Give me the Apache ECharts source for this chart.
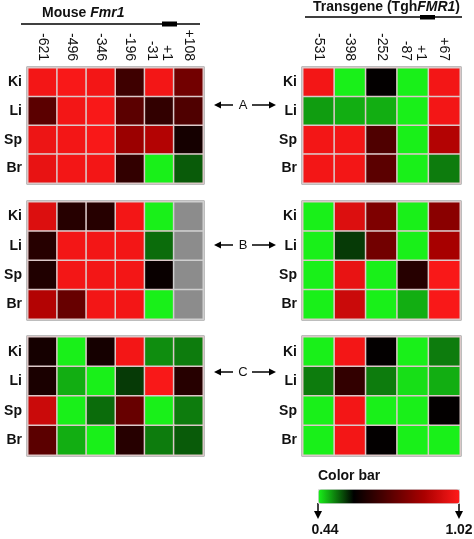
<!DOCTYPE html>
<html><head><meta charset="utf-8">
<script src="https://cdn.jsdelivr.net/npm/echarts@6/dist/echarts.min.js"></script>
<style>html,body{margin:0;padding:0;background:#fff}#c{width:474px;height:539px}</style>
</head><body><div id="c"></div>
<script>
var tissues = ['Ki', 'Li', 'Sp', 'Br'];
// two-line labels: with 90° rotation the last line is drawn on the left
var mouseSites = ['-621', '-496', '-346', '-196', '+1\n-31', '+108'];
var tgSites = ['-531', '-398', '-252', '+1\n-87', '+67'];
var colorMin = 0.44, colorMax = 1.02;

// rows: Ki, Li, Sp, Br
var mouseA = [
  [1.00, 1.01, 1.00, 0.69, 1.00, 0.78],
  [0.74, 1.00, 1.01, 0.74, 0.67, 0.72],
  [0.99, 1.00, 1.01, 0.85, 0.89, 0.62],
  [0.98, 1.00, 1.00, 0.67, 0.44, 0.53]
];
var tgA = [
  [1.00, 0.44, 0.59, 0.44, 1.00],
  [0.49, 0.48, 0.48, 0.44, 1.00],
  [1.00, 1.00, 0.72, 0.44, 0.89],
  [1.00, 1.00, 0.74, 0.44, 0.51]
];
var mouseB = [
  [0.96, 0.65, 0.65, 1.00, 0.44, null],
  [0.65, 1.00, 1.00, 1.00, 0.52, null],
  [0.64, 1.00, 1.00, 1.00, 0.60, null],
  [0.89, 0.76, 1.00, 1.00, 0.44, null]
];
var tgB = [
  [0.44, 0.96, 0.80, 0.44, 0.82],
  [0.44, 0.55, 0.78, 0.44, 0.87],
  [0.44, 0.98, 0.44, 0.65, 1.01],
  [0.44, 0.93, 0.44, 0.48, 1.01]
];
var mouseC = [
  [0.62, 0.44, 0.62, 1.00, 0.50, 0.51],
  [0.63, 0.48, 0.44, 0.55, 1.01, 0.65],
  [0.93, 0.44, 0.52, 0.76, 0.44, 0.51],
  [0.74, 0.48, 0.44, 0.65, 0.51, 0.53]
];
var tgC = [
  [0.44, 1.00, 0.59, 0.44, 0.51],
  [0.51, 0.67, 0.51, 0.45, 0.48],
  [0.44, 1.00, 0.44, 0.44, 0.59],
  [0.44, 1.00, 0.59, 0.44, 0.44]
];

var FONT = '"Liberation Sans", Arial, sans-serif';
function toData(m) {
  var out = [];
  m.forEach(function (row, y) { row.forEach(function (v, x) { if (v !== null) out.push([x, y, v]); }); });
  return out;
}
function naData(m) {
  var out = [];
  m.forEach(function (row, y) { row.forEach(function (v, x) { if (v === null) out.push([x, y, 0]); }); });
  return out;
}

var panels = [
  { m: mouseA, sites: mouseSites, left: 28, top: 68, w: 175, h: 115, labels: true },
  { m: tgA, sites: tgSites, left: 303, top: 68, w: 157, h: 115, labels: true },
  { m: mouseB, sites: mouseSites, left: 28, top: 202, w: 175, h: 117, labels: false },
  { m: tgB, sites: tgSites, left: 303, top: 202, w: 157, h: 117, labels: false },
  { m: mouseC, sites: mouseSites, left: 28, top: 337, w: 175, h: 118, labels: false },
  { m: tgC, sites: tgSites, left: 303, top: 337, w: 157, h: 118, labels: false }
];

var grids = [], xAxes = [], yAxes = [], series = [];
panels.forEach(function (p, i) {
  grids.push({ left: p.left, top: p.top, width: p.w, height: p.h, show: true,
    borderColor: '#7d7d7d', borderWidth: 3, backgroundColor: 'transparent' });
  xAxes.push({ type: 'category', gridIndex: i, data: p.sites, position: 'top',
    axisLine: { show: false }, axisTick: { show: false }, splitLine: { show: false },
    axisLabel: { show: p.labels, rotate: 90, margin: 7, color: '#111', fontSize: 14,
      fontFamily: FONT, lineHeight: 15 } });
  yAxes.push({ type: 'category', gridIndex: i, data: tissues, inverse: true,
    axisLine: { show: false }, axisTick: { show: false }, splitLine: { show: false },
    axisLabel: { margin: 6, color: '#111', fontSize: 14, fontWeight: 'bold', fontFamily: FONT } });
  series.push({ type: 'heatmap', xAxisIndex: i, yAxisIndex: i, data: toData(p.m),
    itemStyle: { borderColor: '#dcc8c8', borderWidth: 1.5 }, emphasis: { disabled: true } });
});
// missing-data cells (grey)
panels.forEach(function (p, i) {
  var d = naData(p.m);
  if (d.length) series.push({ type: 'heatmap', xAxisIndex: i, yAxisIndex: i, data: d,
    itemStyle: { color: '#8c8c8c', borderColor: '#cfcfcf', borderWidth: 1.5 }, emphasis: { disabled: true } });
});

function arrowH(x1, x2, y) {
  var dir = x2 > x1 ? 1 : -1;
  return [
    { type: 'line', shape: { x1: x1, y1: y, x2: x2 - dir * 5, y2: y }, style: { stroke: '#000', lineWidth: 1.5 } },
    { type: 'polygon', shape: { points: [[x2, y], [x2 - dir * 7, y - 3.5], [x2 - dir * 7, y + 3.5]] }, style: { fill: '#000' } }
  ];
}
function arrowV(x, y1, y2) {
  return [
    { type: 'line', shape: { x1: x, y1: y1, x2: x, y2: y2 - 5 }, style: { stroke: '#000', lineWidth: 1.5 } },
    { type: 'polygon', shape: { points: [[x, y2], [x - 4, y2 - 8], [x + 4, y2 - 8]] }, style: { fill: '#000' } }
  ];
}
var graphics = [];
// titles
graphics.push({ type: 'text', left: 42, top: 6, style: { text: '{n|Mouse }{i|Fmr1}', rich: {
  n: { fontSize: 14, fontWeight: 'bold', fontFamily: FONT, fill: '#111' },
  i: { fontSize: 14, fontWeight: 'bold', fontStyle: 'italic', fontFamily: FONT, fill: '#111' } } } });
graphics.push({ type: 'line', shape: { x1: 21, y1: 24, x2: 200, y2: 24 }, style: { stroke: '#000', lineWidth: 1.5 } });
graphics.push({ type: 'rect', shape: { x: 162, y: 21.5, width: 15, height: 5 }, style: { fill: '#000' } });
graphics.push({ type: 'text', left: 313, top: 0, style: { text: '{n|Transgene (Tgh}{i|FMR1}{n|)}', rich: {
  n: { fontSize: 14, fontWeight: 'bold', fontFamily: FONT, fill: '#111' },
  i: { fontSize: 14, fontWeight: 'bold', fontStyle: 'italic', fontFamily: FONT, fill: '#111' } } } });
graphics.push({ type: 'line', shape: { x1: 305, y1: 17, x2: 462, y2: 17 }, style: { stroke: '#000', lineWidth: 1.5 } });
graphics.push({ type: 'rect', shape: { x: 420, y: 15, width: 15, height: 4.5 }, style: { fill: '#000' } });
// A / B / C arrows
[['A', 105], ['B', 245], ['C', 372]].forEach(function (a) {
  graphics = graphics.concat(arrowH(233, 214, a[1]));
  graphics.push({ type: 'text', x: 243, y: a[1], style: { text: a[0], fontSize: 13, fontFamily: FONT,
    fill: '#111', align: 'center', verticalAlign: 'middle' } });
  graphics = graphics.concat(arrowH(252, 276, a[1]));
});
// colour bar annotations
graphics.push({ type: 'text', left: 318, top: 469, style: { text: 'Color bar', fontSize: 14, fontWeight: 'bold', fontFamily: FONT, fill: '#111' } });
graphics = graphics.concat(arrowV(318, 503, 519), arrowV(459, 503, 519));
graphics.push({ type: 'text', x: 325, y: 530, style: { text: String(colorMin), fontSize: 14, fontWeight: 'bold', fontFamily: FONT, fill: '#111', align: 'center', verticalAlign: 'middle' } });
graphics.push({ type: 'text', x: 459, y: 530, style: { text: String(colorMax), fontSize: 14, fontWeight: 'bold', fontFamily: FONT, fill: '#111', align: 'center', verticalAlign: 'middle' } });

var chart = echarts.init(document.getElementById('c'), null, { renderer: 'canvas' });
chart.setOption({
  animation: false,
  backgroundColor: '#fff',
  grid: grids, xAxis: xAxes, yAxis: yAxes, series: series,
  visualMap: {
    type: 'continuous', min: colorMin, max: colorMax, seriesIndex: [0, 1, 2, 3, 4, 5],
    orient: 'horizontal', left: 318, top: 489, itemWidth: 14, itemHeight: 141,
    calculable: false, hoverLink: false, padding: 0, borderWidth: 1, borderColor: '#d8d8d8',
    inRange: { color: ['#19f019', '#000000', '#550000', '#aa0000', '#ff1a1a'] }
  },
  graphic: graphics
});
</script></body></html>
